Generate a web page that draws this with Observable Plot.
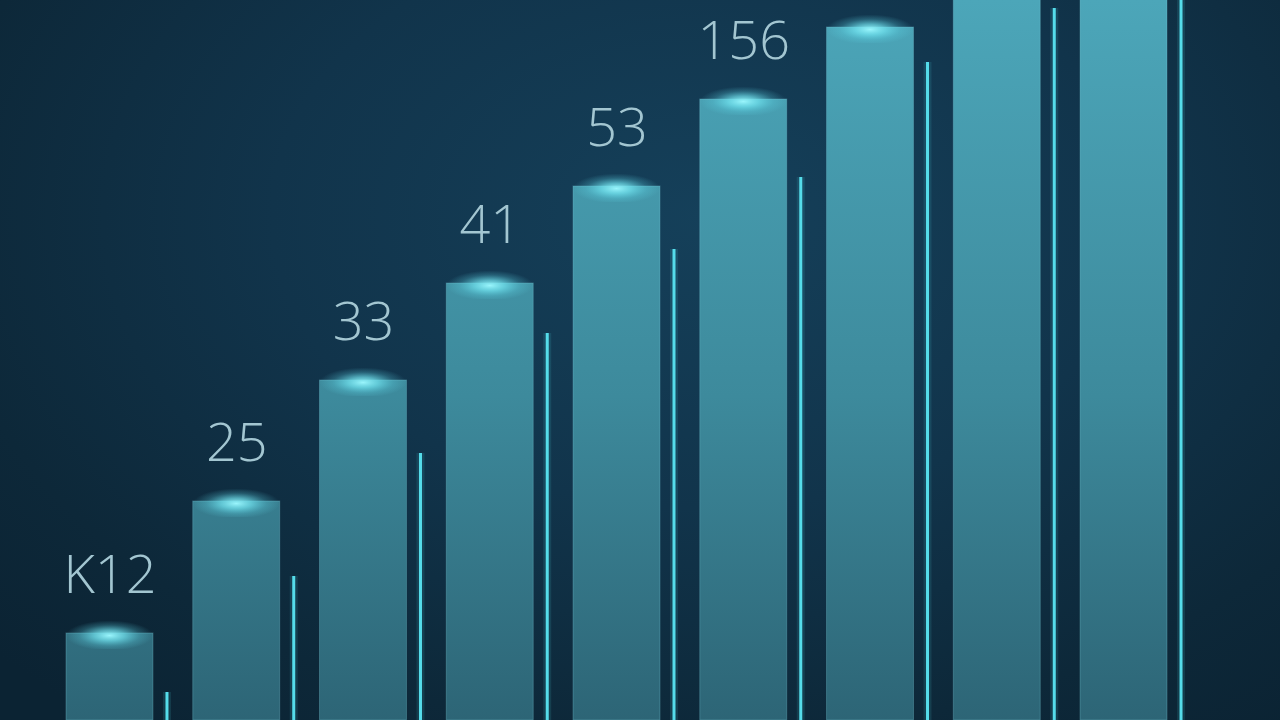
<!DOCTYPE html>
<html>
<head>
<meta charset="utf-8">
<script src="https://cdn.jsdelivr.net/npm/d3@7"></script>
<script src="https://cdn.jsdelivr.net/npm/@observablehq/plot@0.6"></script>
<style>
  html, body { margin: 0; padding: 0; width: 1280px; height: 720px; overflow: hidden; }
  body {
    background: radial-gradient(ellipse 75% 90% at 55% 30%, #15405a 0%, #11344b 45%, #0d2839 80%, #0b2333 100%);
  }
  #chart svg { display: block; }
</style>
</head>
<body>
<div id="chart"></div>
<script>
// Categories (bar slots), bar heights, indicator-line heights and labels
const categories = ["b1", "b2", "b3", "b4", "b5", "b6", "b7", "b8", "b9"];
const barValues  = [87, 219, 340, 437, 534, 621, 693, 760, 800];
const lineValues = [28, 144, 267, 387, 471, 543, 658, 712, 760];
const labels     = ["K12", "25", "33", "41", "53", "156", "", "", ""];

const data = categories.map((c, i) => ({ cat: c, h: barValues[i], line: lineValues[i], label: labels[i] }));

const plot = Plot.plot({
  width: 1280,
  height: 720,
  margin: 0,
  style: { background: "transparent", overflow: "hidden" },
  x: { type: "band", domain: categories, range: [66, 1167], paddingInner: 0.314, paddingOuter: 0, round: false, axis: null },
  y: { domain: [0, 720], range: [720, 0], axis: null },
  marks: [
    // glow halo of the indicator lines
    Plot.ruleX(data, { x: "cat", y1: 0, y2: "line", dx: 57, stroke: "#52dbe9", strokeWidth: 8, strokeOpacity: 0.12 }),
    Plot.ruleX(data, { x: "cat", y1: 0, y2: "line", dx: 57, stroke: "#55dcea", strokeWidth: 3 }),
    // bars
    Plot.barY(data, { x: "cat", y1: 0, y2: "h", fill: "url(#barGrad)", stroke: "#7fd0de", strokeOpacity: 0.3, strokeWidth: 1, clip: true }),
    // glow on top of each bar
    Plot.rect(data, { x: "cat", y1: d => d.h - 16, y2: d => d.h + 14, fill: "url(#glowGrad)", clip: true }),
    // labels
    Plot.text(data, {
      x: "cat", y: "h", text: "label", dy: -58, lineAnchor: "middle", textAnchor: "middle",
      fontSize: 54, fontWeight: 300, fill: "#a3c6d1",
      fontFamily: "'Open Sans', Lato, 'Noto Sans', sans-serif"
    })
  ]
});

const svg = d3.select(plot);
const defs = svg.insert("defs", ":first-child");
const bg = defs.append("linearGradient").attr("id", "barGrad")
  .attr("gradientUnits", "userSpaceOnUse").attr("x1", 0).attr("y1", 0).attr("x2", 0).attr("y2", 720);
bg.append("stop").attr("offset", "0%").attr("stop-color", "#4ca6b9");
bg.append("stop").attr("offset", "55%").attr("stop-color", "#3d8a9c");
bg.append("stop").attr("offset", "100%").attr("stop-color", "#2d6576");

const gg = defs.append("radialGradient").attr("id", "glowGrad")
  .attr("cx", "50%").attr("cy", "55%").attr("r", "50%");
gg.append("stop").attr("offset", "0%").attr("stop-color", "#9af5fc").attr("stop-opacity", 1);
gg.append("stop").attr("offset", "35%").attr("stop-color", "#72e5f1").attr("stop-opacity", 0.7);
gg.append("stop").attr("offset", "70%").attr("stop-color", "#5fd6e6").attr("stop-opacity", 0.25);
gg.append("stop").attr("offset", "100%").attr("stop-color", "#5fd6e6").attr("stop-opacity", 0);

document.getElementById("chart").appendChild(plot);
</script>
</body>
</html>
